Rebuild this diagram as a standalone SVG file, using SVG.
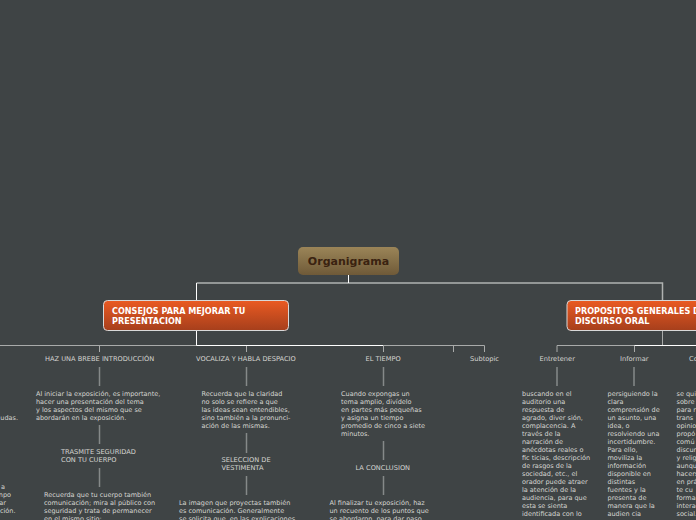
<svg xmlns="http://www.w3.org/2000/svg" width="696" height="520" viewBox="0 0 696 520">
<defs>
<linearGradient id="gm" x1="0" y1="0" x2="0" y2="1"><stop offset="0" stop-color="#9b8558"/><stop offset="1" stop-color="#6f5a38"/></linearGradient>
<linearGradient id="go" x1="0" y1="0" x2="0" y2="1"><stop offset="0" stop-color="#ea5a22"/><stop offset="1" stop-color="#a63f1c"/></linearGradient>
</defs>
<style>
text{font-family:"DejaVu Sans",Verdana,sans-serif;font-size:6.65px;fill:#d6d6d2}
.b text{font-size:6.5px}
.o{font-size:8.1px;font-weight:bold;fill:#fff}
.e{text-anchor:end}
.c{fill:none;stroke:#a9abaa;stroke-width:1}
.t{fill:none;stroke:#b0b2b1;stroke-width:1.5}
.w{fill:none;stroke:#fff;stroke-width:1}
.s{fill:none;stroke:#858989;stroke-width:1.5}
</style>
<rect width="696" height="520" fill="#3f4445"/>
<g id="connectors">
<path class="t" d="M196.500 283H662.500V301"/>
<path class="c" d="M0 345.500H484.500V352M99.500 345.500V352M383.500 345.500V352M453.500 345.500V352M246.500 345.500V352M557 352V345.500H696M634.500 345.500V352M662.500 331V345.500"/>
<path class="w" d="M348.500 275V283M196.500 283V301M196.500 331V345.500M196.500 345.500H383M634.500 345.500H696"/>
<path class="s" d="M99.500 367V386M99.500 425V444M99.500 468V487M246.500 367V386M246.500 433V453M246.500 476V495M383.500 367V386M383.500 441V460M383.500 476V495M557 367V386M634 367V386"/>
</g>
<g id="root"><rect x="298" y="247" width="101" height="28" rx="5" fill="url(#gm)"/><text x="348.500" y="265" text-anchor="middle" style="font-size:11px;font-weight:bold;fill:#3a2210">Organigrama</text></g>
<g id="n1"><rect x="103.500" y="300.500" width="185" height="30" rx="4" fill="url(#go)" stroke="#d8d8d8"/><text class="o" x="112" y="314">CONSEJOS PARA MEJORAR TU</text><text class="o" x="112" y="324">PRESENTACION</text></g>
<g id="n2"><rect x="567" y="300.500" width="160" height="30" rx="4" fill="url(#go)" stroke="#d8d8d8"/><text class="o" x="575" y="314">PROPOSITOS GENERALES DEL</text><text class="o" x="575" y="324">DISCURSO ORAL</text></g>
<g id="t1"><text x="45" y="361">HAZ UNA BREBE INTRODUCCIÓN</text></g>
<g id="t2"><text x="196" y="361">VOCALIZA Y HABLA DESPACIO</text></g>
<g id="t3"><text x="365.500" y="361">EL TIEMPO</text></g>
<g id="t4"><text x="470" y="361">Subtopic</text></g>
<g id="t5"><text x="539.500" y="361">Entretener</text></g>
<g id="t6"><text x="620" y="361">Informar</text></g>
<g id="t7"><text x="689" y="361">Co</text></g>
<g id="d0" class="b"><text class="e" x="18" y="420">udas.</text></g>
<g id="d00" class="b"><text class="e" x="5" y="489">a</text><text class="e" x="11" y="497">npo</text><text class="e" x="6" y="505">ar</text><text class="e" x="15.500" y="513">ción.</text></g>
<g id="d1" class="b"><text x="36" y="396">Al iniciar la exposición, es importante,</text><text x="36" y="404">hacer una presentación del tema</text><text x="36" y="412">y los aspectos del mismo que se</text><text x="36" y="420">abordarán en la exposición.</text></g>
<g id="d2"><text x="61" y="454">TRASMITE SEGURIDAD</text><text x="61" y="462">CON TU CUERPO</text></g>
<g id="d3" class="b"><text x="44" y="497">Recuerda que tu cuerpo también</text><text x="44" y="505">comunicación; mira al público con</text><text x="44" y="513">seguridad y trata de permanecer</text><text x="44" y="521">en el mismo sitio;</text></g>
<g id="d4" class="b"><text x="201.500" y="396">Recuerda que la claridad</text><text x="201.500" y="404">no solo se refiere a que</text><text x="201.500" y="412">las ideas sean entendibles,</text><text x="201.500" y="420">sino también a la pronunci-</text><text x="201.500" y="428">ación de las mismas.</text></g>
<g id="d5"><text x="221.500" y="462">SELECCION DE</text><text x="221.500" y="470">VESTIMENTA</text></g>
<g id="d6" class="b"><text x="179" y="505">La imagen que proyectas también</text><text x="179" y="513">es comunicación. Generalmente</text><text x="179" y="521">se solicita que, en las explicaciones</text></g>
<g id="d7" class="b"><text x="341" y="396">Cuando expongas un</text><text x="341" y="404">tema amplio, divídelo</text><text x="341" y="412">en partes más pequeñas</text><text x="341" y="420">y asigna un tiempo</text><text x="341" y="428">promedio de cinco a siete</text><text x="341" y="436">minutos.</text></g>
<g id="d8"><text x="355.500" y="470">LA CONCLUSION</text></g>
<g id="d9" class="b"><text x="329.500" y="505">Al finalizar tu exposición, haz</text><text x="329.500" y="513">un recuento de los puntos que</text><text x="329.500" y="521">se abordaron, para dar paso</text></g>
<g id="d10" class="b"><text x="522" y="396">buscando en el</text><text x="522" y="404">auditorio una</text><text x="522" y="412">respuesta de</text><text x="522" y="420">agrado, diver sión,</text><text x="522" y="428">complacencia. A</text><text x="522" y="436">través de la</text><text x="522" y="444">narración de</text><text x="522" y="452">anécdotas reales o</text><text x="522" y="460">fic ticias, descripción</text><text x="522" y="468">de rasgos de la</text><text x="522" y="476">sociedad, etc., el</text><text x="522" y="484">orador puede atraer</text><text x="522" y="492">la atención de la</text><text x="522" y="500">audiencia, para que</text><text x="522" y="508">esta se sienta</text><text x="522" y="516">identificada con lo</text></g>
<g id="d11" class="b"><text x="607.500" y="396">persiguiendo la</text><text x="607.500" y="404">clara</text><text x="607.500" y="412">comprensión de</text><text x="607.500" y="420">un asunto, una</text><text x="607.500" y="428">idea, o</text><text x="607.500" y="436">resolviendo una</text><text x="607.500" y="444">incertidumbre.</text><text x="607.500" y="452">Para ello,</text><text x="607.500" y="460">moviliza la</text><text x="607.500" y="468">información</text><text x="607.500" y="476">disponible en</text><text x="607.500" y="484">distintas</text><text x="607.500" y="492">fuentes y la</text><text x="607.500" y="500">presenta de</text><text x="607.500" y="508">manera que la</text><text x="607.500" y="516">audien cia</text></g>
<g id="d12" class="b"><text x="676.500" y="396">se qui</text><text x="676.500" y="404">sobre</text><text x="676.500" y="412">para r</text><text x="676.500" y="420">trans</text><text x="676.500" y="428">opinio</text><text x="676.500" y="436">propó</text><text x="676.500" y="444">comú</text><text x="676.500" y="452">discur</text><text x="676.500" y="460">y relig</text><text x="676.500" y="468">aunqu</text><text x="676.500" y="476">hacers</text><text x="676.500" y="484">en prá</text><text x="676.500" y="492">te cu</text><text x="676.500" y="500">forma</text><text x="676.500" y="508">interac</text><text x="676.500" y="516">social.</text></g>
</svg>
